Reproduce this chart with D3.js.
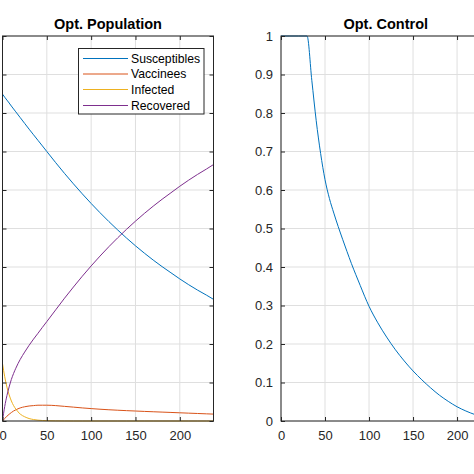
<!DOCTYPE html>
<html><head><meta charset="utf-8">
<script src="https://cdn.jsdelivr.net/npm/d3@7"></script>
<style>html,body{margin:0;padding:0;background:#fff;overflow:hidden}svg{display:block}</style>
</head><body>
<script>
// ---------- data ----------
const tPop = [0,2.5,5,7.5,10,12.5,15,20,25,30,35,40,45,50,60,70,80,90,100,110,120,130,140,150,160,170,180,190,200,210,220,230,238];
const susceptibles = [0.849,0.841,0.8335,0.826,0.818,0.8105,0.803,0.788,0.773,0.758,0.7435,0.729,0.7145,0.700,0.671,0.643,0.616,0.590,0.565,0.541,0.518,0.496,0.475,0.455,0.436,0.418,0.401,0.385,0.369,0.354,0.340,0.327,0.316];
const vaccinees = [0,0.0065,0.0125,0.0175,0.022,0.026,0.029,0.034,0.037,0.039,0.040,0.041,0.041,0.041,0.040,0.038,0.036,0.034,0.0322,0.0306,0.0292,0.028,0.0269,0.0259,0.0249,0.024,0.0231,0.0222,0.0213,0.0204,0.0195,0.0186,0.0179];
const infected = [0.149,0.115,0.088,0.068,0.052,0.040,0.031,0.018,0.011,0.0064,0.0038,0.0022,0.0013,0.0008,0.0003,0.0001,0,0,0,0,0,0,0,0,0,0,0,0,0,0,0,0,0];
const recovered = [0.001,0.0375,0.066,0.0885,0.108,0.1235,0.137,0.160,0.179,0.1966,0.2127,0.2278,0.2432,0.2582,0.2887,0.319,0.348,0.376,0.4028,0.4284,0.4528,0.476,0.4981,0.5191,0.5391,0.558,0.5759,0.5928,0.6097,0.6256,0.6405,0.6544,0.6661];
const seriesNames = ["Susceptibles","Vaccinees","Infected","Recovered"];
const tCtrl = [0,10,20,29.6,35,40,45,50,55,60,65,70,75,80,85,90,95,100,110,120,130,140,150,160,170,180,190,200,210,220,230,238];
const control = [1,1,1,1,0.885,0.780,0.695,0.627,0.578,0.540,0.505,0.472,0.440,0.409,0.380,0.352,0.324,0.298,0.255,0.218,0.185,0.156,0.130,0.107,0.086,0.067,0.051,0.037,0.026,0.017,0.010,0.006];
const xTicks = [0,50,100,150,200];
const yTicks = [0,0.1,0.2,0.3,0.4,0.5,0.6,0.7,0.8,0.9,1];
const titles = ["Opt. Population","Opt. Control"];

// ---------- style ----------
const colors = ["#0072BD","#D95319","#EDB120","#7E2F8E"];
const axisColor = "#262626", gridColor = "#dfdfdf";
const font = "'Liberation Sans', Arial, Helvetica, sans-serif";

const svg = d3.select("body").append("svg").attr("width",474).attr("height",474);
svg.append("rect").attr("width",474).attr("height",474).attr("fill","#fff");

const yTop = 36, yBottom = 421;
const panels = [{x0:2.5, x1:213.5, yLabels:false}, {x0:281, x1:490.5, yLabels:true}];

function drawPanel(p, idx, series){
  const x = d3.scaleLinear().domain([0,238]).range([p.x0,p.x1]);
  const y = d3.scaleLinear().domain([0,1]).range([yBottom,yTop]);
  const g = svg.append("g");
  // grid
  g.selectAll(".gx").data(xTicks).join("line")
    .attr("x1",d=>x(d)).attr("x2",d=>x(d)).attr("y1",yTop).attr("y2",yBottom)
    .attr("stroke",gridColor).attr("stroke-width",1);
  g.selectAll(".gy").data(yTicks).join("line")
    .attr("x1",p.x0).attr("x2",p.x1).attr("y1",d=>y(d)).attr("y2",d=>y(d))
    .attr("stroke",gridColor).attr("stroke-width",1);
  // lines
  series.forEach(s=>{
    const line = d3.line().x((d,i)=>x(s.t[i])).y(d=>y(d)).curve(d3.curveMonotoneX);
    g.append("path").datum(s.v).attr("d",line).attr("fill","none")
      .attr("stroke",s.c).attr("stroke-width",1);
  });
  // axes (ticks inward)
  const ax = g.append("g").attr("transform",`translate(0,${yBottom})`)
    .call(d3.axisBottom(x).tickValues(xTicks).tickSizeInner(-4).tickSizeOuter(0).tickPadding(10).tickFormat(d3.format("d")));
  const axTop = g.append("g").attr("transform",`translate(0,${yTop})`)
    .call(d3.axisTop(x).tickValues(xTicks).tickSizeInner(-4).tickSizeOuter(0).tickFormat(""));
  const ay = g.append("g").attr("transform",`translate(${p.x0},0)`)
    .call(d3.axisLeft(y).tickValues(yTicks).tickSizeInner(-4).tickSizeOuter(0).tickPadding(8)
      .tickFormat(d=>p.yLabels ? String(+d.toFixed(1)) : ""));
  const ayR = g.append("g").attr("transform",`translate(${p.x1},0)`)
    .call(d3.axisRight(y).tickValues(yTicks).tickSizeInner(-4).tickSizeOuter(0).tickFormat(""));
  [ax,axTop,ay,ayR].forEach(a=>{
    a.select(".domain").remove();
    a.selectAll("line").attr("stroke",axisColor).attr("stroke-width",1);
    a.selectAll("text").attr("fill",axisColor).style("font-family",font).style("font-size","13px");
  });
  // box
  g.append("rect").attr("x",p.x0).attr("y",yTop).attr("width",p.x1-p.x0).attr("height",yBottom-yTop)
    .attr("fill","none").attr("stroke",axisColor).attr("stroke-width",1);
  // title
  g.append("text").attr("x",(p.x0+p.x1)/2).attr("y",29).attr("text-anchor","middle")
    .style("font-family",font).style("font-size","14.5px").style("font-weight","bold").attr("fill","#000")
    .text(titles[idx]);
}

const popSeries = [susceptibles,vaccinees,infected,recovered].map((v,i)=>({t:tPop,v,c:colors[i]}));
drawPanel(panels[0],0,popSeries);
drawPanel(panels[1],1,[{t:tCtrl,v:control,c:colors[0]}]);

// legend
const lg = svg.append("g");
lg.append("rect").attr("x",78.5).attr("y",48.5).attr("width",125.5).attr("height",65.5)
  .attr("fill","#fff").attr("stroke",axisColor).attr("stroke-width",1);
const rowY = [58.5,74,89.5,105.5];
seriesNames.forEach((n,i)=>{
  lg.append("line").attr("x1",83).attr("x2",128).attr("y1",rowY[i]).attr("y2",rowY[i])
    .attr("stroke",colors[i]).attr("stroke-width",1);
  lg.append("text").attr("x",131).attr("y",rowY[i]).attr("dy","0.35em")
    .style("font-family",font).style("font-size","12.2px").attr("fill","#000").text(n);
});
</script>
</body></html>
